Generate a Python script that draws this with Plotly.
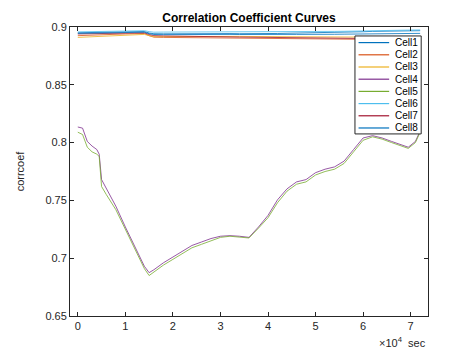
import plotly.graph_objects as go

# ---------------- data ----------------
T = [0, 1000, 2000, 3000, 4000, 4500, 5000, 5500, 6000, 8000, 10000, 12000, 14000,
     15000, 16000, 18000, 20000, 22000, 24000, 26000, 28000, 30000, 32000, 34000,
     36000, 38000, 40000, 42000, 44000, 46000, 48000, 50000, 52000, 54000, 56000,
     58000, 60000, 62000, 64000, 66000, 68000, 69500, 71000, 72000]

CELL1 = [0.8950, 0.8951, 0.8953, 0.8952, 0.8954, 0.8955, 0.8954, 0.8956, 0.8956, 0.8957, 0.8959, 0.8960, 0.8961,
         0.8948, 0.8942, 0.8941, 0.8942, 0.8940, 0.8941, 0.8942, 0.8940, 0.8941, 0.8943, 0.8942,
         0.8941, 0.8943, 0.8945, 0.8944, 0.8946, 0.8947, 0.8948, 0.8950, 0.8951, 0.8953, 0.8955,
         0.8957, 0.8959, 0.8962, 0.8964, 0.8966, 0.8967, 0.8969, 0.8970, 0.8968]
CELL2 = [0.8925, 0.8927, 0.8929, 0.8930, 0.8932, 0.8933, 0.8933, 0.8935, 0.8936, 0.8938, 0.8940, 0.8942, 0.8944,
         0.8925, 0.8912, 0.8910, 0.8909, 0.8908, 0.8907, 0.8906, 0.8906, 0.8905, 0.8904, 0.8903,
         0.8903, 0.8902, 0.8901, 0.8900, 0.8900, 0.8899, 0.8898, 0.8897, 0.8896, 0.8895, 0.8894,
         0.8893, 0.8893, 0.8892, 0.8892, 0.8891, 0.8891, 0.8890, 0.8890, 0.8890]
CELL3 = [0.8910, 0.8912, 0.8915, 0.8917, 0.8919, 0.8920, 0.8921, 0.8923, 0.8924, 0.8927, 0.8930, 0.8933, 0.8936,
         0.8925, 0.8916, 0.8917, 0.8918, 0.8919, 0.8920, 0.8920, 0.8921, 0.8921, 0.8920, 0.8919,
         0.8918, 0.8918, 0.8917, 0.8917, 0.8916, 0.8916, 0.8915, 0.8915, 0.8914, 0.8914, 0.8913,
         0.8913, 0.8912, 0.8912, 0.8911, 0.8911, 0.8911, 0.8910, 0.8910, 0.8910]
CELL4 = [0.8135, 0.8125, 0.8010, 0.7970, 0.7940, 0.7900, 0.7680, 0.7640, 0.7610, 0.7450, 0.7270, 0.7100, 0.6930,
         0.6875, 0.6900, 0.6960, 0.7010, 0.7060, 0.7110, 0.7140, 0.7170, 0.7190, 0.7195, 0.7190,
         0.7180, 0.7270, 0.7370, 0.7505, 0.7600, 0.7660, 0.7680, 0.7740, 0.7770, 0.7790, 0.7840,
         0.7940, 0.8040, 0.8060, 0.8040, 0.8010, 0.7980, 0.7960, 0.8010, 0.8100]
CELL5 = [0.8090, 0.8070, 0.7960, 0.7920, 0.7900, 0.7880, 0.7620, 0.7580, 0.7550, 0.7420, 0.7250, 0.7080, 0.6910,
         0.6850, 0.6880, 0.6940, 0.6990, 0.7040, 0.7090, 0.7120, 0.7150, 0.7180, 0.7190, 0.7185,
         0.7175, 0.7260, 0.7350, 0.7480, 0.7580, 0.7640, 0.7660, 0.7720, 0.7750, 0.7770, 0.7820,
         0.7920, 0.8020, 0.8050, 0.8030, 0.8000, 0.7970, 0.7950, 0.8000, 0.8090]
CELL6 = [0.8958, 0.8959, 0.8960, 0.8961, 0.8962, 0.8962, 0.8963, 0.8964, 0.8964, 0.8965, 0.8966, 0.8967, 0.8968,
         0.8960, 0.8955, 0.8956, 0.8956, 0.8957, 0.8957, 0.8958, 0.8958, 0.8958, 0.8958, 0.8958,
         0.8957, 0.8958, 0.8958, 0.8959, 0.8959, 0.8960, 0.8960, 0.8960, 0.8961, 0.8962, 0.8963,
         0.8964, 0.8966, 0.8968, 0.8970, 0.8971, 0.8972, 0.8973, 0.8975, 0.8975]
CELL7 = [0.8940, 0.8941, 0.8942, 0.8942, 0.8943, 0.8944, 0.8944, 0.8945, 0.8945, 0.8946, 0.8947, 0.8948, 0.8950,
         0.8935, 0.8925, 0.8923, 0.8921, 0.8920, 0.8919, 0.8918, 0.8917, 0.8915, 0.8914, 0.8913,
         0.8912, 0.8911, 0.8910, 0.8909, 0.8908, 0.8907, 0.8906, 0.8905, 0.8904, 0.8903, 0.8902,
         0.8901, 0.8900, 0.8899, 0.8898, 0.8897, 0.8896, 0.8896, 0.8895, 0.8895]
CELL8 = [0.8945, 0.8946, 0.8947, 0.8947, 0.8948, 0.8949, 0.8949, 0.8950, 0.8951, 0.8952, 0.8953, 0.8954, 0.8955,
         0.8942, 0.8935, 0.8934, 0.8935, 0.8934, 0.8935, 0.8935, 0.8934, 0.8935, 0.8936, 0.8935,
         0.8934, 0.8935, 0.8935, 0.8935, 0.8936, 0.8936, 0.8935, 0.8935, 0.8936, 0.8937, 0.8938,
         0.8939, 0.8940, 0.8941, 0.8942, 0.8943, 0.8944, 0.8944, 0.8945, 0.8945]

CELL_NAMES = ["Cell1", "Cell2", "Cell3", "Cell4", "Cell5", "Cell6", "Cell7", "Cell8"]
CELL_VALUES = [CELL1, CELL2, CELL3, CELL4, CELL5, CELL6, CELL7, CELL8]

X_TICK_VALS = [0, 10000, 20000, 30000, 40000, 50000, 60000, 70000]
X_TICK_TEXT = ["0", "1", "2", "3", "4", "5", "6", "7"]
Y_TICK_VALS = [0.65, 0.7, 0.75, 0.8, 0.85, 0.9]
Y_TICK_TEXT = ["0.65", "0.7", "0.75", "0.8", "0.85", "0.9"]

# ---------------- styling ----------------
COLORS = ["#0072BD", "#D95319", "#EDB120", "#7E2F8E", "#77AC30", "#4DBEEE", "#A2142F", "#0072BD"]
FONT = "Liberation Sans, Arial, Helvetica, sans-serif"
AXC = "#262626"

fig = go.Figure()
for name, vals, col in zip(CELL_NAMES, CELL_VALUES, COLORS):
    fig.add_trace(go.Scatter(x=T, y=vals, mode="lines", name=name,
                             line=dict(color=col, width=0.8)))

axis_common = dict(
    showgrid=False, zeroline=False, showline=True, linecolor=AXC, linewidth=1,
    mirror="ticks", ticks="inside", ticklen=4, tickcolor=AXC, tickwidth=1,
    tickfont=dict(family=FONT, size=11, color=AXC),
)

# compact MATLAB-style legend box (paper coordinates of the plot area)
LEG_X0, LEG_X1, LEG_Y0, LEG_Y1 = 0.796, 0.981, 0.969, 0.630
SAMPLE_X0, SAMPLE_X1, LABEL_X = 0.806, 0.8915, 0.902
ENTRY_TOP, ENTRY_STEP = 0.946, 0.0422

shapes = [dict(type="rect", xref="paper", yref="paper", x0=LEG_X0, x1=LEG_X1, y0=LEG_Y1, y1=LEG_Y0,
               fillcolor="white", line=dict(color=AXC, width=1), layer="above")]
annotations = []
for i, (name, col) in enumerate(zip(CELL_NAMES, COLORS)):
    yy = ENTRY_TOP - i * ENTRY_STEP
    shapes.append(dict(type="line", xref="paper", yref="paper", x0=SAMPLE_X0, x1=SAMPLE_X1,
                       y0=yy, y1=yy, line=dict(color=col, width=1.2), layer="above"))
    annotations.append(dict(text=name, xref="paper", yref="paper", x=LABEL_X, y=yy,
                            xanchor="left", yanchor="middle", showarrow=False,
                            font=dict(family=FONT, size=10, color="black")))

annotations.append(dict(text="×10<sup>4</sup>  sec", xref="paper", yref="paper",
                        x=1.0, y=-0.09, xanchor="right", yanchor="middle", showarrow=False,
                        font=dict(family=FONT, size=11, color=AXC)))

fig.update_layout(
    width=458, height=347,
    paper_bgcolor="white", plot_bgcolor="white",
    margin=dict(l=54, r=38, t=19, b=39),
    font=dict(family=FONT, color=AXC),
    title=dict(text="<b>Correlation Coefficient Curves</b>", x=0.5, xanchor="center",
               xref="paper", yref="container", y=0.972, yanchor="middle",
               font=dict(family=FONT, size=12, color="black")),
    xaxis=dict(range=[-1640, 73650], tickvals=X_TICK_VALS, ticktext=X_TICK_TEXT, **axis_common),
    yaxis=dict(range=[0.65, 0.9], tickvals=Y_TICK_VALS, ticktext=Y_TICK_TEXT,
               title=dict(text="corrcoef", font=dict(family=FONT, size=11, color=AXC), standoff=18),
               **axis_common),
    showlegend=False,
    shapes=shapes,
    annotations=annotations,
)

fig.write_html("out.html")
